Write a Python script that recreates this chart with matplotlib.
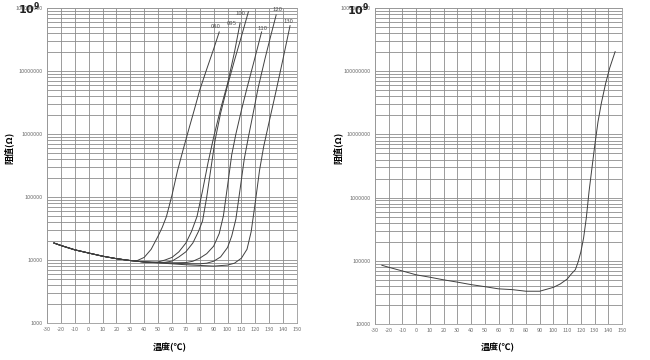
import matplotlib
matplotlib.use('Agg')
import matplotlib.pyplot as plt
from matplotlib.ticker import LogLocator

plt.rcParams['font.family'] = ['Noto Sans CJK SC', 'DejaVu Sans']

# left chart: PTC curves (temperature in C, resistance in ohm)
base_t = [-25, -20, -10, 0, 10, 20, 30]
base_r = [18600, 17000, 14500, 12900, 11500, 10500, 9800]

t080 = base_t + [35, 40, 45, 50, 53, 56, 58, 60, 64, 68, 72, 76, 80, 85, 90, 94]
r080 = base_r + [9800, 11000, 14800, 24000, 33100, 49000, 72400, 107000, 263000,
                 562000, 1.17e6, 2.4e6, 5.0e6, 1.07e7, 2.24e7, 4.17e7]

t095 = base_t + [40, 45, 50, 55, 60, 65, 70, 74, 78, 82, 86, 90, 95, 100, 105, 109]
r095 = base_r + [9300, 9200, 9300, 10000, 11000, 13500, 18600, 28200, 49000,
                 126000, 355000, 891000, 2.51e6, 6.31e6, 2.0e7, 5.75e7]

t100 = base_t + [40, 50, 55, 60, 65, 70, 75, 79, 82, 85, 88, 91, 95, 100, 105, 110, 115]
r100 = base_r + [9300, 9100, 9200, 9600, 11200, 13500, 18600, 28200, 41700,
                 100000, 282000, 794000, 2.14e6, 5.89e6, 1.48e7, 3.55e7, 8.71e7]

t110 = base_t + [40, 50, 60, 70, 75, 80, 85, 90, 94, 97, 100, 103, 106, 110, 114,
                 119, 124.5]
r110 = base_r + [9300, 9100, 9000, 9100, 9550, 10700, 12600, 16600, 26300, 50100,
                 151000, 468000, 1.0e6, 2.4e6, 5.37e6, 1.41e7, 4.17e7]

t120 = base_t + [40, 50, 60, 70, 80, 85, 90, 95, 100, 103, 106, 109, 112, 115, 118,
                 122, 127, 131, 135]
r120 = base_r + [9300, 9100, 8900, 8700, 8700, 8900, 9550, 11200, 15800, 24000,
                 44700, 132000, 398000, 891000, 1.91e6, 5.37e6, 1.58e7, 3.55e7, 7.76e7]

t130 = base_t + [40, 50, 60, 70, 80, 90, 100, 105, 110, 114, 117, 120, 123, 126,
                 130, 135, 140, 145]
r130 = base_r + [9300, 9000, 8700, 8400, 8200, 8000, 8300, 8900, 10700, 14800,
                 28200, 83200, 263000, 631000, 1.58e6, 4.9e6, 1.58e7, 5.25e7]

curve_names = ['080', '095', '100', '110', '120', '130']
curve_t = [t080, t095, t100, t110, t120, t130]
curve_r = [r080, r095, r100, r110, r120, r130]

# right chart: single curve
right_t = [-25, -20, -10, 0, 10, 20, 30, 40, 50, 60, 70, 80, 90, 100, 105, 110,
           113, 116, 118, 120, 122, 124, 126, 128, 130, 132.5, 135, 138, 141, 145]
right_r = [85000, 79000, 69000, 60000, 55000, 50000, 46000, 42000, 39000, 36000,
           35000, 33000, 33000, 38000, 43000, 51300, 61700, 72400, 95500, 138000,
           229000, 479000, 1.26e6, 2.82e6, 6.31e6, 1.58e7, 3.16e7, 6.31e7, 1.12e8,
           2.04e8]

x_ticks = list(range(-30, 151, 10))

grid_c = '#8c8c8c'
line_c = '#404040'
tick_c = '#707070'

fig = plt.figure(figsize=(6.5, 3.6), dpi=100)
fig.patch.set_facecolor('white')


def setup(ax, ymin, ymax):
    ax.set_yscale('log')
    ax.set_xlim(-30, 150)
    ax.set_ylim(ymin, ymax)
    ax.set_xticks(x_ticks)
    ax.set_xticklabels([str(v) for v in x_ticks])
    ax.yaxis.set_minor_locator(LogLocator(base=10, subs=range(2, 10)))
    ax.yaxis.set_minor_formatter(plt.NullFormatter())
    ax.grid(True, which='major', color=grid_c, lw=0.6)
    ax.grid(True, which='minor', axis='y', color=grid_c, lw=0.6)
    ax.tick_params(which='both', length=0, labelsize=4, labelcolor=tick_c, pad=3)
    for s in ax.spines.values():
        s.set_color('#999999')
        s.set_linewidth(0.6)


ax1 = fig.add_axes([47 / 650, 37 / 360, 250 / 650, 315 / 360])
setup(ax1, 1e3, 1e8)
ax1.set_yticks([1e3, 1e4, 1e5, 1e6, 1e7, 1e8])
ax1.set_yticklabels(['1000', '10000', '100000', '1000000', '10000000', '100000000'])
for t, r in zip(curve_t, curve_r):
    ax1.plot(t, r, color=line_c, lw=0.7)
label_pos = {'080': (91.5, 5.0e7), '095': (103, 5.6e7), '100': (109, 8.3e7),
             '110': (125, 4.8e7), '120': (136, 9.3e7), '130': (144, 6.0e7)}
for name in curve_names:
    x, y = label_pos[name]
    ax1.text(x, y, name, fontsize=4.3, color='#505050', ha='center', va='center')

ax2 = fig.add_axes([375 / 650, 36 / 360, 247 / 650, 316 / 360])
setup(ax2, 1e4, 1e9)
ax2.set_yticks([1e4, 1e5, 1e6, 1e7, 1e8, 1e9])
ax2.set_yticklabels(['10000', '100000', '1000000', '10000000', '100000000', '1000000000'])
ax2.plot(right_t, right_r, color=line_c, lw=0.7)

# bold "10^9" stamped over the top tick labels, as in the scan
fig.text(29 / 650, 1 - 9 / 360, '$\\mathbf{10^9}$', fontsize=8, ha='center',
         va='center', color='#222222')
fig.text(358 / 650, 1 - 10 / 360, '$\\mathbf{10^9}$', fontsize=8, ha='center',
         va='center', color='#222222')

for xc, yl in [(170, 9), (498, 338)]:
    fig.text(xc / 650, 1 - 347 / 360, '温度(℃)', fontsize=6.5, fontweight='bold',
             ha='center', va='center')
    fig.text(yl / 650, 1 - 148 / 360, '阻值(Ω)', fontsize=6.5, fontweight='bold',
             rotation=90, ha='center', va='center')

fig.savefig('out.png', dpi=100, facecolor='white')
